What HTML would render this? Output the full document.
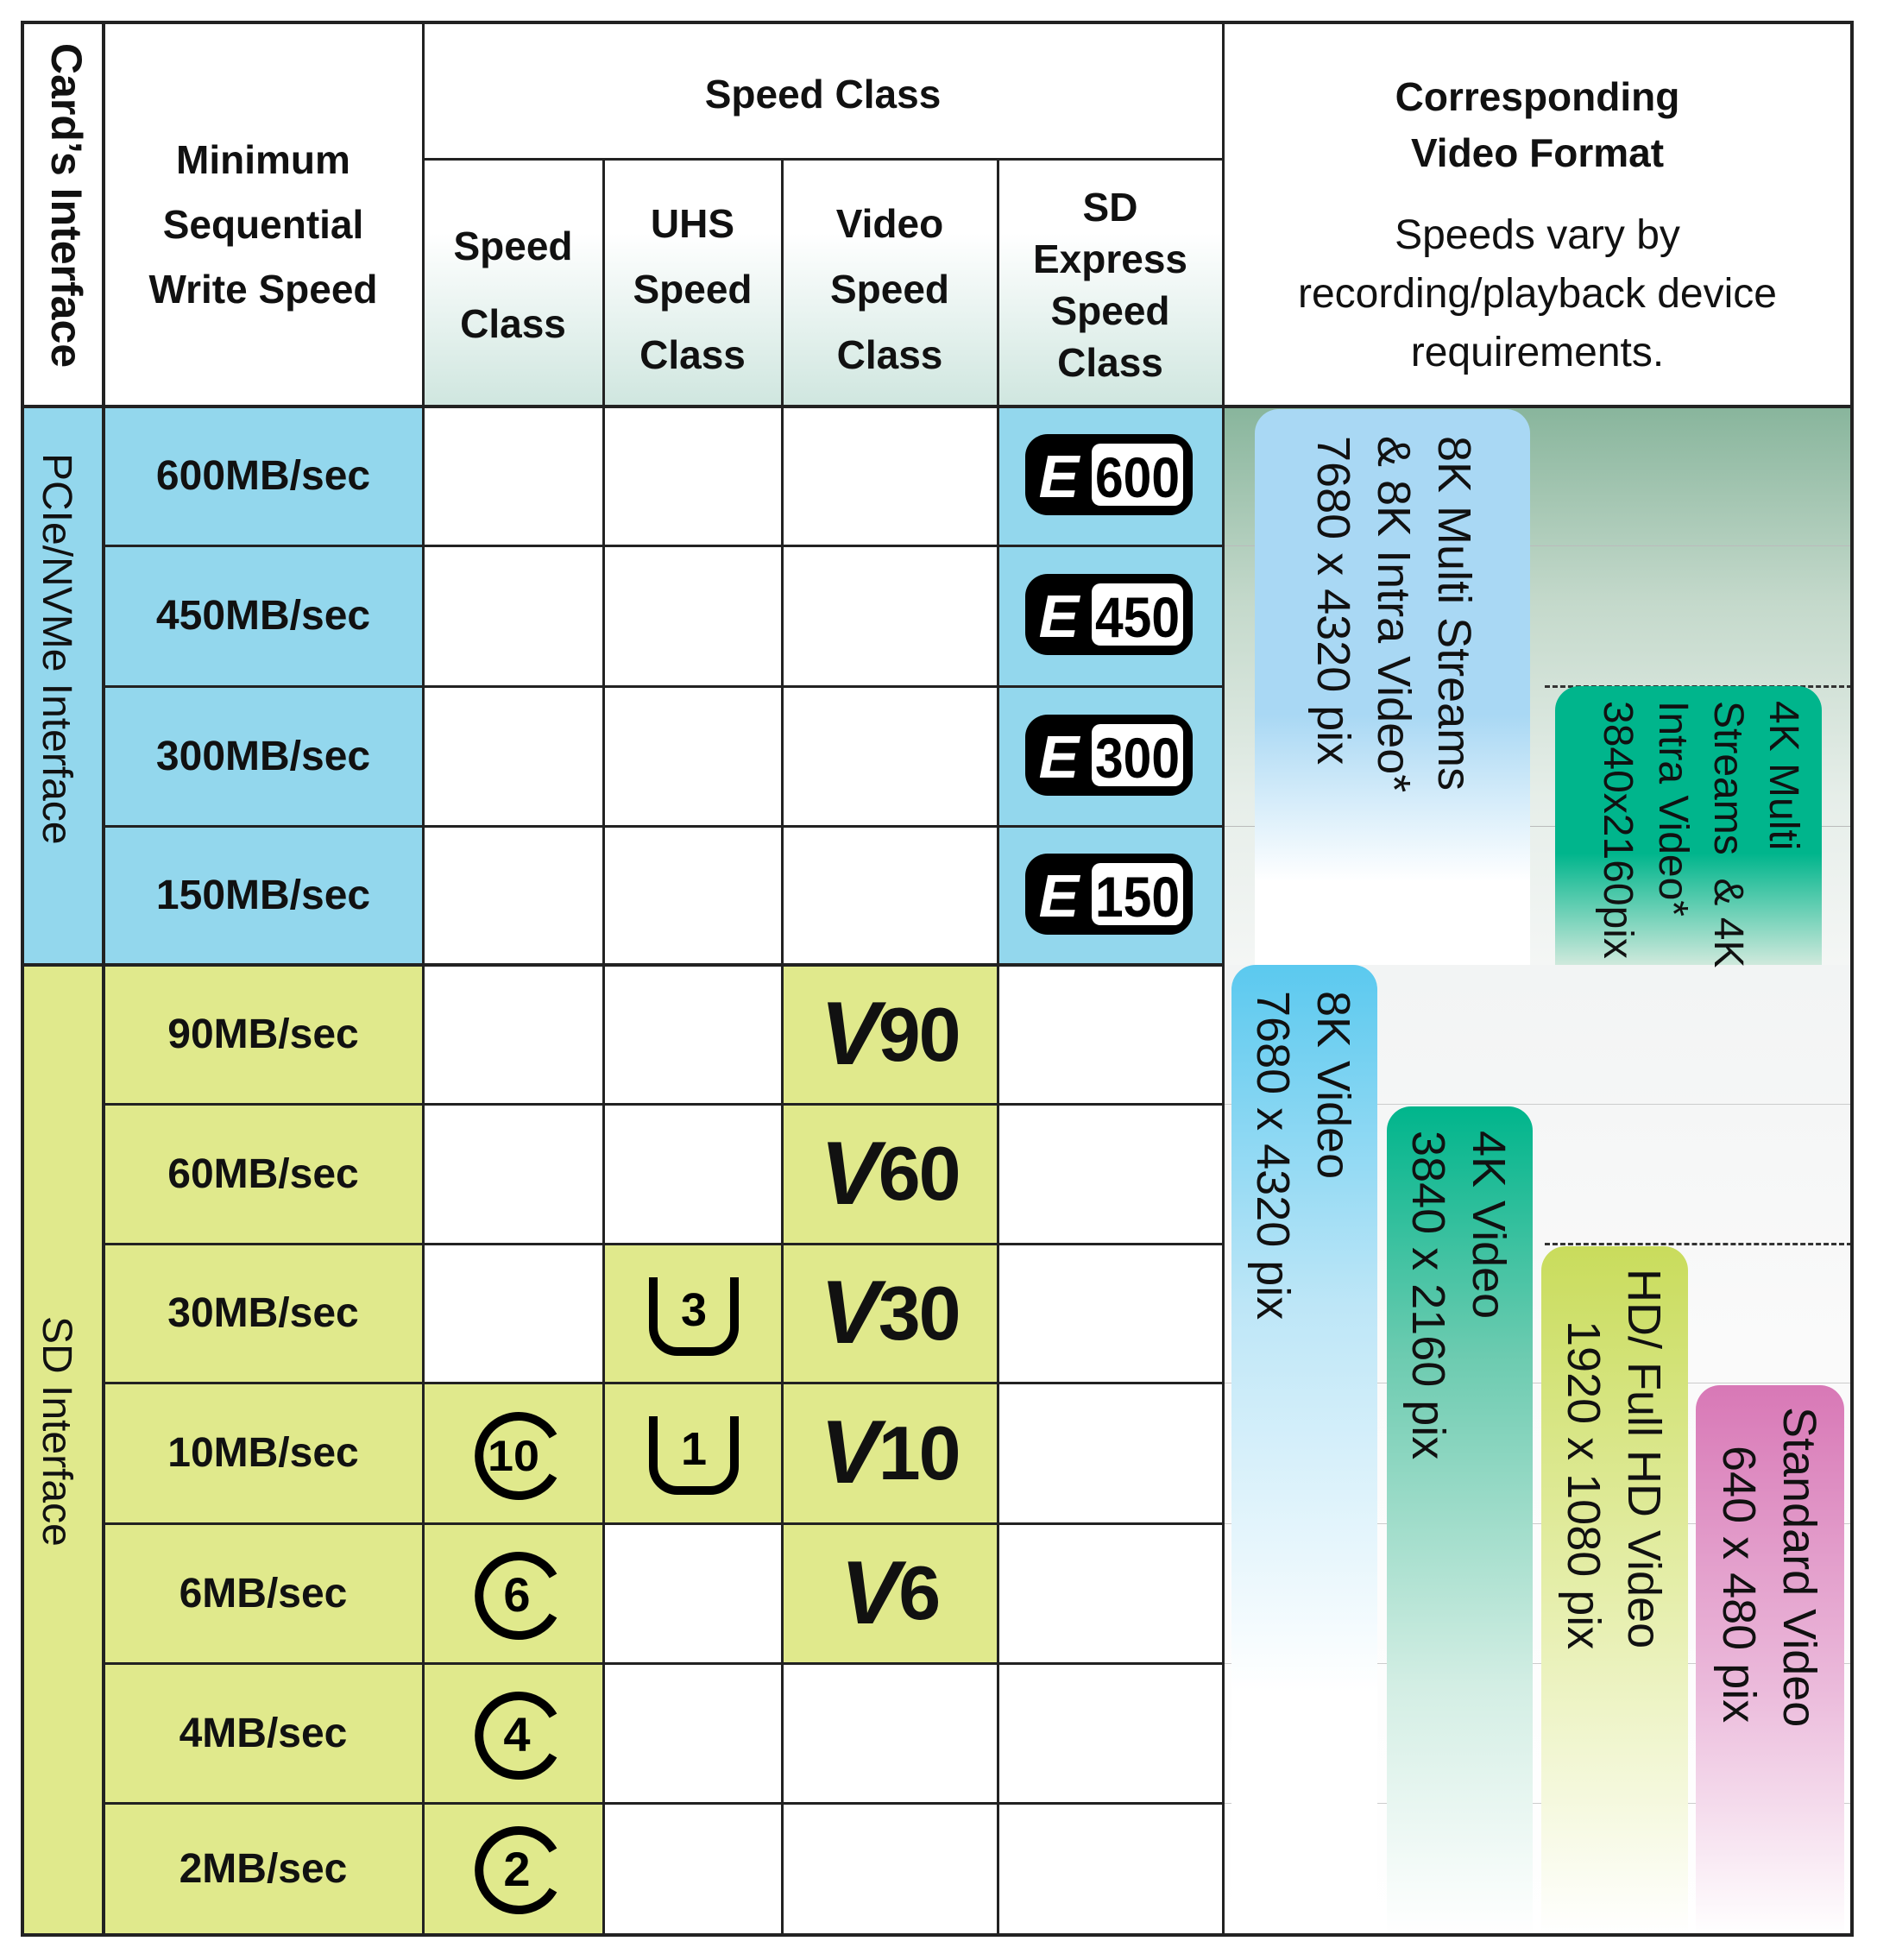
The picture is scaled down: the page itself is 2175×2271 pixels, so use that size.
<!DOCTYPE html>
<html><head><meta charset="utf-8">
<style>
*{margin:0;padding:0;box-sizing:border-box}
body{width:2175px;height:2271px;background:#fff;position:relative;overflow:hidden;font-family:"Liberation Sans",sans-serif;color:#111}
.a{position:absolute}
.hl{position:absolute;background:#222;height:3px}
.vl{position:absolute;background:#222;width:3px}
.c{position:absolute;display:flex;align-items:center;justify-content:center;text-align:center}
.h{font-weight:bold;font-size:46px;line-height:1.6}
.sp{font-weight:bold;font-size:48px}
.vt{writing-mode:vertical-rl;font-family:"Liberation Sans Narrow","Liberation Sans",sans-serif;font-size:54px;line-height:70px;position:absolute;color:#111;white-space:nowrap}
.box{position:absolute;border-radius:28px 28px 0 0}
</style></head><body>
<div class="a" style="left:26px;top:471px;width:464px;height:647px;background:#93d7ed"></div>
<div class="a" style="left:1156px;top:471px;width:261px;height:647px;background:#93d7ed"></div>
<div class="a" style="left:26px;top:1118px;width:464px;height:1124px;background:#e0e98c"></div>
<div class="a" style="left:906px;top:1118px;width:250px;height:809px;background:#e0e98c"></div>
<div class="a" style="left:699px;top:1441px;width:207px;height:324px;background:#e0e98c"></div>
<div class="a" style="left:490px;top:1602px;width:209px;height:640px;background:#e0e98c"></div>
<div class="a" style="left:490px;top:184px;width:927px;height:287px;background:linear-gradient(#fff,#fff 30%,#cfe6df)"></div>
<div class="a" style="left:1417px;top:471px;width:729px;height:647px;background:linear-gradient(#88b59c,#c4d9cb 35%,#e6eee9 70%,#f4f6f5)"></div>
<div class="a" style="left:1417px;top:1118px;width:729px;height:1124px;background:linear-gradient(#f2f4f4,#fafafa 40%,#fff)"></div>
<div class="a" style="left:1417px;top:632px;width:729px;height:1px;background:#bbb"></div>
<div class="a" style="left:1417px;top:957px;width:729px;height:1px;background:#bbb"></div>
<div class="a" style="left:1417px;top:1279px;width:729px;height:1px;background:#ccc"></div>
<div class="a" style="left:1417px;top:1602px;width:729px;height:1px;background:#ccc"></div>
<div class="a" style="left:1417px;top:1765px;width:729px;height:1px;background:#ccc"></div>
<div class="a" style="left:1417px;top:1927px;width:729px;height:1px;background:#ccc"></div>
<div class="a" style="left:1417px;top:2089px;width:729px;height:1px;background:#ccc"></div>
<div class="a" style="left:1790px;top:794px;width:356px;border-top:3px dashed #333"></div>
<div class="a" style="left:1790px;top:1440px;width:356px;border-top:3px dashed #333"></div>
<div class="box" style="left:1454px;top:474px;width:319px;height:644px;background:linear-gradient(#a9d8f4,#a9d8f4 55%,#fff 85%)"></div>
<div class="box" style="left:1802px;top:795px;width:309px;height:323px;background:linear-gradient(#00b58c,#00b58c 60%,#cfe9dc)"></div>
<div class="box" style="left:1427px;top:1118px;width:169px;height:1124px;background:linear-gradient(#5bc9ef,#bde6f7 35%,#fff 75%)"></div>
<div class="box" style="left:1607px;top:1282px;width:169px;height:960px;background:linear-gradient(#00b58c,#6ccbb0 30%,#d3eee4 70%,#fff)"></div>
<div class="box" style="left:1786px;top:1444px;width:170px;height:798px;background:linear-gradient(#c9dc5c,#e5eeaa 50%,#fff)"></div>
<div class="box" style="left:1965px;top:1605px;width:172px;height:637px;background:linear-gradient(#d878b6,#ebbadb 55%,#fff)"></div>
<div class="vt" style="left:1490px;top:505px;width:230px;height:520px">8K Multi Streams<br>&amp; 8K Intra Video*<br>7680 x 4320 pix</div>
<div class="vt" style="left:1828px;top:812px;width:270px;height:420px;line-height:64px;font-size:48px">4K Multi<br>Streams &nbsp;&amp; 4K<br>Intra Video*<br>3840x2160pix</div>
<div class="vt" style="left:1440px;top:1148px;width:140px;height:500px">8K Video<br>7680 x 4320 pix</div>
<div class="vt" style="left:1620px;top:1310px;width:140px;height:500px">4K Video<br>3840 x 2160 pix</div>
<div class="vt" style="left:1800px;top:1470px;width:140px;height:620px">HD/ Full HD Video<br>&nbsp;&nbsp;&nbsp;&nbsp;1920 x 1080 pix</div>
<div class="vt" style="left:1980px;top:1630px;width:140px;height:520px">Standard Video<br>&nbsp;&nbsp;&nbsp;640 x 480 pix</div>
<div class="hl" style="left:26px;top:24px;width:2122px;height:4px"></div>
<div class="hl" style="left:26px;top:2240px;width:2122px;height:4px"></div>
<div class="vl" style="left:24px;top:24px;height:2220px;width:4px"></div>
<div class="vl" style="left:2144px;top:24px;height:2220px;width:4px"></div>
<div class="vl" style="left:118px;top:24px;height:2220px;width:4px"></div>
<div class="vl" style="left:489px;top:24px;height:2220px"></div>
<div class="vl" style="left:698px;top:184px;height:2058px"></div>
<div class="vl" style="left:905px;top:184px;height:2058px"></div>
<div class="vl" style="left:1155px;top:184px;height:2058px"></div>
<div class="vl" style="left:1416px;top:24px;height:2220px"></div>
<div class="hl" style="left:490px;top:183px;width:927px"></div>
<div class="hl" style="left:26px;top:469px;width:2122px;height:4px"></div>
<div class="hl" style="left:26px;top:1116px;width:1391px;height:4px"></div>
<div class="hl" style="left:120px;top:631px;width:1297px"></div>
<div class="hl" style="left:120px;top:794px;width:1297px"></div>
<div class="hl" style="left:120px;top:956px;width:1297px"></div>
<div class="hl" style="left:120px;top:1278px;width:1297px"></div>
<div class="hl" style="left:120px;top:1440px;width:1297px"></div>
<div class="hl" style="left:120px;top:1601px;width:1297px"></div>
<div class="hl" style="left:120px;top:1764px;width:1297px"></div>
<div class="hl" style="left:120px;top:1926px;width:1297px"></div>
<div class="hl" style="left:120px;top:2088px;width:1297px"></div>
<div class="a h" style="left:40px;top:50px;writing-mode:vertical-rl;line-height:74px;font-size:50px;white-space:nowrap">Card’s Interface</div>
<div class="c h" style="left:120px;top:140px;width:370px;height:240px;line-height:75px">Minimum<br>Sequential<br>Write Speed</div>
<div class="c h" style="left:490px;top:70px;width:927px;height:80px">Speed Class</div>
<div class="c h" style="left:490px;top:230px;width:209px;height:200px;line-height:90px">Speed<br>Class</div>
<div class="c h" style="left:699px;top:220px;width:207px;height:230px;line-height:76px">UHS<br>Speed<br>Class</div>
<div class="c h" style="left:906px;top:220px;width:250px;height:230px;line-height:76px">Video<br>Speed<br>Class</div>
<div class="c h" style="left:1156px;top:205px;width:261px;height:250px;line-height:60px">SD<br>Express<br>Speed<br>Class</div>
<div class="c h" style="left:1417px;top:80px;width:729px;height:130px;line-height:65px">Corresponding<br>Video Format</div>
<div class="c" style="left:1417px;top:236px;width:729px;height:210px;font-size:48px;line-height:68px">Speeds vary by<br>recording/playback device<br>requirements.</div>
<div class="a" style="left:38px;top:525px;writing-mode:vertical-rl;font-size:48px;line-height:54px;white-space:nowrap">PCIe/NVMe Interface</div>
<div class="a" style="left:38px;top:1525px;writing-mode:vertical-rl;font-size:48px;line-height:54px;white-space:nowrap">SD Interface</div>
<div class="c sp" style="left:120px;top:471px;width:370px;height:161px">600MB/sec</div>
<div class="c sp" style="left:120px;top:632px;width:370px;height:163px">450MB/sec</div>
<div class="c sp" style="left:120px;top:795px;width:370px;height:162px">300MB/sec</div>
<div class="c sp" style="left:120px;top:957px;width:370px;height:161px">150MB/sec</div>
<div class="c sp" style="left:120px;top:1118px;width:370px;height:161px">90MB/sec</div>
<div class="c sp" style="left:120px;top:1279px;width:370px;height:162px">60MB/sec</div>
<div class="c sp" style="left:120px;top:1441px;width:370px;height:161px">30MB/sec</div>
<div class="c sp" style="left:120px;top:1602px;width:370px;height:163px">10MB/sec</div>
<div class="c sp" style="left:120px;top:1765px;width:370px;height:162px">6MB/sec</div>
<div class="c sp" style="left:120px;top:1927px;width:370px;height:162px">4MB/sec</div>
<div class="c sp" style="left:120px;top:2089px;width:370px;height:153px">2MB/sec</div>
<svg class="a" style="left:1185px;top:500px" width="200" height="100"><rect x="3" y="3" width="194" height="94" rx="26" fill="#000"/><rect x="80" y="14" width="106" height="72" rx="10" fill="#fff"/><text x="42" y="76" font-family="Liberation Sans" font-weight="bold" font-style="italic" font-size="70" fill="#fff" text-anchor="middle">E</text><text x="133" y="76" font-family="Liberation Sans" font-weight="bold" font-size="66" text-anchor="middle" textLength="98" lengthAdjust="spacingAndGlyphs">600</text></svg>
<svg class="a" style="left:1185px;top:662px" width="200" height="100"><rect x="3" y="3" width="194" height="94" rx="26" fill="#000"/><rect x="80" y="14" width="106" height="72" rx="10" fill="#fff"/><text x="42" y="76" font-family="Liberation Sans" font-weight="bold" font-style="italic" font-size="70" fill="#fff" text-anchor="middle">E</text><text x="133" y="76" font-family="Liberation Sans" font-weight="bold" font-size="66" text-anchor="middle" textLength="98" lengthAdjust="spacingAndGlyphs">450</text></svg>
<svg class="a" style="left:1185px;top:825px" width="200" height="100"><rect x="3" y="3" width="194" height="94" rx="26" fill="#000"/><rect x="80" y="14" width="106" height="72" rx="10" fill="#fff"/><text x="42" y="76" font-family="Liberation Sans" font-weight="bold" font-style="italic" font-size="70" fill="#fff" text-anchor="middle">E</text><text x="133" y="76" font-family="Liberation Sans" font-weight="bold" font-size="66" text-anchor="middle" textLength="98" lengthAdjust="spacingAndGlyphs">300</text></svg>
<svg class="a" style="left:1185px;top:986px" width="200" height="100"><rect x="3" y="3" width="194" height="94" rx="26" fill="#000"/><rect x="80" y="14" width="106" height="72" rx="10" fill="#fff"/><text x="42" y="76" font-family="Liberation Sans" font-weight="bold" font-style="italic" font-size="70" fill="#fff" text-anchor="middle">E</text><text x="133" y="76" font-family="Liberation Sans" font-weight="bold" font-size="66" text-anchor="middle" textLength="98" lengthAdjust="spacingAndGlyphs">150</text></svg>
<div class="c" style="left:906px;top:1118px;width:250px;height:161px;font-weight:bold;font-size:88px;letter-spacing:-2px"><i style="font-size:104px">V</i>90</div>
<div class="c" style="left:906px;top:1279px;width:250px;height:162px;font-weight:bold;font-size:88px;letter-spacing:-2px"><i style="font-size:104px">V</i>60</div>
<div class="c" style="left:906px;top:1441px;width:250px;height:161px;font-weight:bold;font-size:88px;letter-spacing:-2px"><i style="font-size:104px">V</i>30</div>
<div class="c" style="left:906px;top:1602px;width:250px;height:163px;font-weight:bold;font-size:88px;letter-spacing:-2px"><i style="font-size:104px">V</i>10</div>
<div class="c" style="left:906px;top:1765px;width:250px;height:162px;font-weight:bold;font-size:88px;letter-spacing:-2px"><i style="font-size:104px">V</i>6</div>
<svg class="a" style="left:749px;top:1476px" width="110" height="96"><path d="M8 4 V62 a28 28 0 0 0 28 28 H74 a28 28 0 0 0 28 -28 V4" fill="none" stroke="#000" stroke-width="10"/><text x="55" y="60" font-family="Liberation Sans" font-weight="bold" font-size="54" text-anchor="middle">3</text></svg>
<svg class="a" style="left:749px;top:1637px" width="110" height="96"><path d="M8 4 V62 a28 28 0 0 0 28 28 H74 a28 28 0 0 0 28 -28 V4" fill="none" stroke="#000" stroke-width="10"/><text x="55" y="60" font-family="Liberation Sans" font-weight="bold" font-size="54" text-anchor="middle">1</text></svg>
<svg class="a" style="left:545px;top:1632px" width="110" height="110"><path d="M96 32 A46 46 0 1 0 96 78" fill="none" stroke="#000" stroke-width="10"/><text x="50" y="72" font-family="Liberation Sans" font-weight="bold" font-size="50" text-anchor="middle" textLength="60" lengthAdjust="spacingAndGlyphs">10</text></svg>
<svg class="a" style="left:545px;top:1794px" width="110" height="110"><path d="M96 32 A46 46 0 1 0 96 78" fill="none" stroke="#000" stroke-width="10"/><text x="54" y="73" font-family="Liberation Sans" font-weight="bold" font-size="56" text-anchor="middle">6</text></svg>
<svg class="a" style="left:545px;top:1956px" width="110" height="110"><path d="M96 32 A46 46 0 1 0 96 78" fill="none" stroke="#000" stroke-width="10"/><text x="54" y="73" font-family="Liberation Sans" font-weight="bold" font-size="56" text-anchor="middle">4</text></svg>
<svg class="a" style="left:545px;top:2112px" width="110" height="110"><path d="M96 32 A46 46 0 1 0 96 78" fill="none" stroke="#000" stroke-width="10"/><text x="54" y="73" font-family="Liberation Sans" font-weight="bold" font-size="56" text-anchor="middle">2</text></svg>
</body></html>
